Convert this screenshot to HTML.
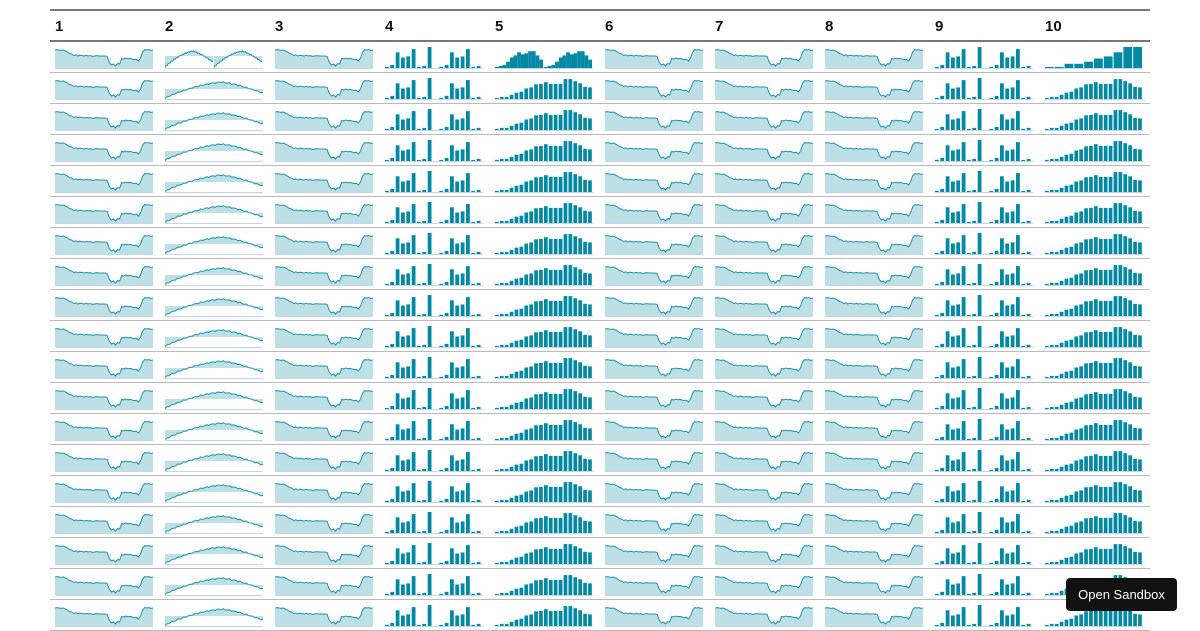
<!DOCTYPE html>
<html><head><meta charset="utf-8"><style>
body{margin:0;background:#fff;width:1200px;height:630px;overflow:hidden;font-family:"Liberation Sans",sans-serif}
#t{position:absolute;left:50px;top:9px;width:1100px;border-top:2px solid #777}
.h{height:29px;border-bottom:2px solid #777;position:relative}
.h span{position:absolute;top:7px;font-weight:bold;font-size:15px;color:#111}
.r{height:30px;border-bottom:1px solid #bbb;position:relative}
.r svg{position:absolute;top:4px}
#tip{position:absolute;left:1066px;top:578px;width:111px;height:33px;background:#111;border-radius:4px;color:#fff;font-size:13px;line-height:33px;text-align:center}
</style></head><body>
<div id="t"><div class="h">
<span style="left:5px">1</span><span style="left:115px">2</span><span style="left:225px">3</span><span style="left:335px">4</span><span style="left:445px">5</span><span style="left:555px">6</span><span style="left:665px">7</span><span style="left:775px">8</span><span style="left:885px">9</span><span style="left:995px">10</span>
</div><div id="rows"></div></div>
<div id="tip">Open Sandbox</div>
<script>
var W=98,H=23;
var A=[.9,.92,.9,.88,.9,.85,.8,.72,.7,.62,.66,.6,.64,.62,.6,.63,.6,.62,.58,.6,.62,.6,.6,.6,.6,.58,.3,.15,.2,.1,.22,.2,.48,.45,.5,.46,.48,.45,.42,.44,.35,.5,.8,.92,.9,.92,.88,.9];
var S=[];for(var i=0;i<48;i++){var t=i/47,v;if(t<0.55)v=0.02+0.95*Math.pow(t/0.55,0.8)*(1-0.15*Math.pow(t/0.55,3));else{var u=(t-0.55)/0.45;v=0.3+0.55*Math.cos(u*Math.PI/2)*(1-0.2*u)+0.12*(1-u)*0;}v+=0.03*Math.sin(i*2.3);S.push(Math.max(0,Math.min(1,v)));}
var B4=[.05,.15,.75,.5,.55,.9,.05,.1,1,0,.05,.15,.75,.5,.55,.9,.05,.1];
var B5=[.05,.1,.1,.2,.3,.35,.5,.55,.7,.72,.8,.72,.72,.72,.95,.95,.85,.75,.58,.55];
var H5=[.05,.1,.15,.3,.5,.6,.75,.65,.7,.8,.8,.6,.4];
var B10=[.02,.05,.2,.2,.3,.45,.55,.75,1,1];
function area(v,x0,w,base){var p=[];for(var i=0;i<v.length;i++){p.push((x0+i*w/(v.length-1)).toFixed(1)+','+(H-1-v[i]*(H-3)).toFixed(1))}
var b=base==null?H-1:base;return '<polygon points="'+x0+','+b+' '+p.join(' ')+' '+(x0+w)+','+b+'" fill="#bde0e7"/><polyline points="'+p.join(' ')+'" fill="none" stroke="#1f93a8" stroke-width="1"/>';}
function bars(v,x0,w,gap){var s='',bw=w/v.length;for(var i=0;i<v.length;i++){var h=v[i]*(H-2);if(h<1&&v[i]>0)h=1;s+='<rect x="'+(x0+i*bw).toFixed(1)+'" y="'+(H-1-h).toFixed(1)+'" width="'+(bw-gap).toFixed(1)+'" height="'+h.toFixed(1)+'" fill="#0389a4"/>';}return s;}
function svg(x,inner){return '<svg style="left:'+x+'px" width="'+W+'" height="'+H+'">'+inner+'<line x1="0" x2="'+W+'" y1="'+(H-.5)+'" y2="'+(H-.5)+'" stroke="#c6d6ea"/></svg>';}
var out='';
for(var r=0;r<19;r++){var row='';
for(var c=0;c<10;c++){var x=5+110*c,inner='';
if(c==1){inner=r==0?area(S,0,48,10)+area(S,49,48,10):area(S,0,W,12);}
else if(c==3||c==8){inner=bars(B4.slice(0,9),0,48,1.5)+bars(B4.slice(9),49,48,1.5);}
else if(c==4){inner=r==0?bars(H5,0,48,0)+bars(H5,49,48,0):bars(B5,0,W,1.2);}
else if(c==9){inner=r==0?bars(B10,0,W,1):bars(B5,0,W,1.2);}
else inner=area(A,0,W);
row+=svg(x,inner);}
out+='<div class="r">'+row+'</div>';}
document.getElementById('rows').innerHTML=out;
</script>
</body></html>
